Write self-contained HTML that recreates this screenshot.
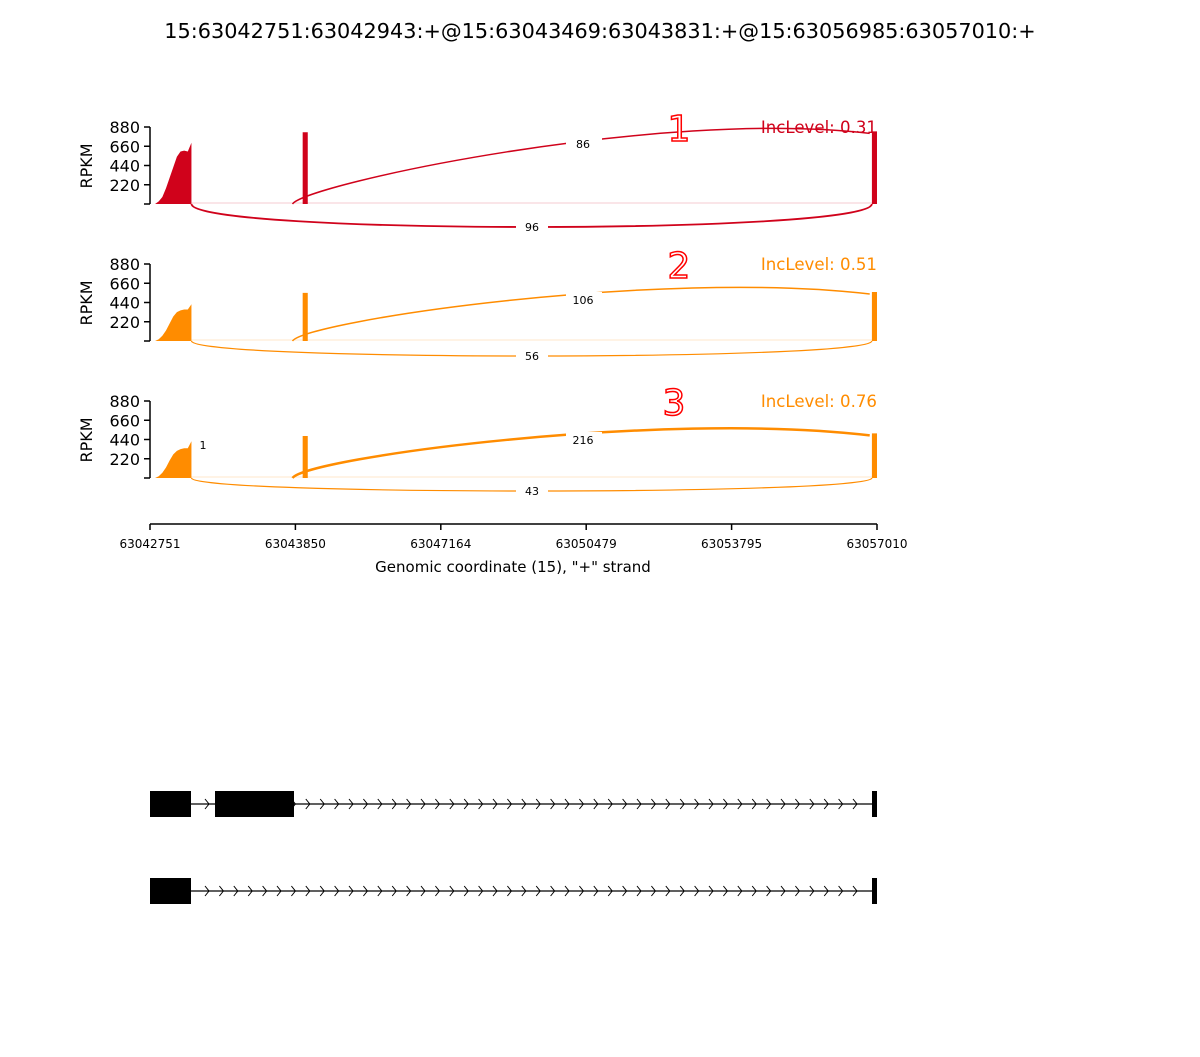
<!DOCTYPE html>
<html><head><meta charset="utf-8"><style>
body{margin:0;background:#fff;}
svg text{font-family:"DejaVu Sans","Liberation Sans",sans-serif;}
</style></head><body>
<svg id="c" width="1200" height="1052" xmlns="http://www.w3.org/2000/svg">
<text x="600" y="38" text-anchor="middle" font-size="20.8" fill="#000">15:63042751:63042943:+@15:63043469:63043831:+@15:63056985:63057010:+</text>
<g id="panels"></g>
<g id="xaxis"></g>
<text x="513" y="572" text-anchor="middle" font-size="15">Genomic coordinate (15), "+" strand</text>
<g id="genes"></g>
</svg>
<script>
const xTickLabels=["63042751","63043850","63047164","63050479","63053795","63057010"];
const yTickLabels=[220,440,660,880];
const sampleNames=["1","2","3"];
const incLevels=["0.31","0.51","0.76"];
const incJunction=[86,106,216];
const skipJunction=[96,56,43];
const exon1Cov=[[0,30,80,180,300,420,540,600,610,600,700],[0,20,60,120,200,280,330,350,360,360,420],[0,20,60,120,200,270,310,330,340,340,420]];
const exon2Peak=[820,550,480];
const exon3Peak=[830,560,510];
const colors=["#d0021b","#ff8c00","#ff8c00"];
const zeros=[204,341,478];
const skipDepth=[23,15,13];

const NS="http://www.w3.org/2000/svg";
const X=u=>150+u*0.727;
function el(t,a,p){const e=document.createElementNS(NS,t);for(const k in a)e.setAttribute(k,a[k]);p.appendChild(e);return e;}
const P=document.getElementById('panels');
for(let i=0;i<3;i++){
  const z=zeros[i],Y=v=>z-v/880*77,c=colors[i];
  const g=el('g',{},P);
  
  
  el('line',{x1:150,y1:Y(0),x2:150,y2:Y(880),stroke:'#000','stroke-width':1.5},g);
  yTickLabels.concat([0]).forEach(v=>{
    el('line',{x1:144,y1:Y(v),x2:150,y2:Y(v),stroke:'#000','stroke-width':1.5},g);
    if(v){const t=el('text',{x:140,y:Y(v)+6,'text-anchor':'end','font-size':16},g);t.textContent=v;
    
    }
  });
  const yl=el('text',{x:0,y:0,'font-size':16,'text-anchor':'middle',transform:`translate(92,${z-38}) rotate(-90)`},g);yl.textContent="RPKM";
  
  
  const cv=exon1Cov[i];let d=`M${X(7)},${Y(0)}`;
  cv.forEach((v,k)=>{d+=` L${X(7+k*50/(cv.length-1))},${Y(v)}`;});
  d+=` L${X(57)},${Y(0)}Z`;
  const a1=el('path',{d,fill:c},g);
  
  
  const a2=el('rect',{x:X(210),y:Y(exon2Peak[i]),width:X(217)-X(210),height:Y(0)-Y(exon2Peak[i]),fill:c},g);
  
  
  const a3=el('rect',{x:X(993),y:Y(exon3Peak[i]),width:X(1000)-X(993),height:Y(0)-Y(exon3Peak[i]),fill:c},g);
  
  
  el('line',{x1:X(57),y1:Y(0)-1,x2:X(993),y2:Y(0)-1,stroke:c,'stroke-width':1,opacity:0.2},g);
  const w=i==2?2.5:1.5;
  const top=Y(exon3Peak[i])+2;
  const inc=el('path',{d:`M${X(196)},${Y(0)} C${X(215)},${Y(0)-20} ${X(700)},${top-25} ${X(990)},${top}`,fill:'none',stroke:c,'stroke-width':w},g);
  
  
  const off=skipDepth[i]/0.75;
  const sk=el('path',{d:`M${X(57)},${Y(0)} C${X(60)},${Y(0)+off} ${X(990)},${Y(0)+off} ${X(993)},${Y(0)}`,fill:'none',stroke:c,'stroke-width':i==0?1.8:1.2},g);
  
  
  const midY=(i==0?144:i==1?300:440);
  el('rect',{x:566,y:midY-8,width:36,height:16,fill:'#fff'},g);
  const t1=el('text',{x:583,y:midY+4,'text-anchor':'middle','font-size':11},g);t1.textContent=incJunction[i];
  
  
  const ly=Y(0)+skipDepth[i];
  el('rect',{x:516,y:ly-8,width:32,height:16,fill:'#fff'},g);
  const t2=el('text',{x:532,y:ly+4,'text-anchor':'middle','font-size':11},g);t2.textContent=skipJunction[i];
  
  
  const il=el('text',{x:877,y:z-71,'text-anchor':'end','font-size':16.6,fill:c},g);il.textContent="IncLevel: "+incLevels[i];
  
  
  const sn=el('text',{x:i==2?674:679,y:z-63,'text-anchor':'middle','font-size':36,fill:'#fff',stroke:'#ff0000','stroke-width':1.5},g);sn.textContent=sampleNames[i];
  
  
  if(i==2){const o=el('text',{x:203,y:449,'text-anchor':'middle','font-size':11},g);o.textContent="1";
  
  }
}
const XA=document.getElementById('xaxis');
el('line',{x1:150,y1:524,x2:877,y2:524,stroke:'#000','stroke-width':1.5},XA);
xTickLabels.forEach((l,k)=>{const x=X(k*200);
  el('line',{x1:x,y1:524,x2:x,y2:530,stroke:'#000','stroke-width':1.5},XA);
  const t=el('text',{x,y:548,'text-anchor':'middle','font-size':12},XA);t.textContent=l;
  
  });
const G=document.getElementById('genes');
[[791,[[150,191],[215,294]]],[878,[[150,191]]]].forEach(([y,ex],r)=>{
  const g=el('g',{},G);
  
  
  el('line',{x1:191,y1:y+13,x2:873,y2:y+13,stroke:'#000','stroke-width':1.2},g);
  for(let x=207;x<868;x+=14.4){el('path',{d:`M${x-2},${y+8} L${x+2},${y+13} L${x-2},${y+18}`,fill:'none',stroke:'#000','stroke-width':1},g);}
  ex.forEach(([a,b])=>{el('rect',{x:a,y,width:b-a,height:26,fill:'#000'},g);});
  el('rect',{x:872,y,width:5,height:26,fill:'#000'},g);
});
</script>
</body></html>
